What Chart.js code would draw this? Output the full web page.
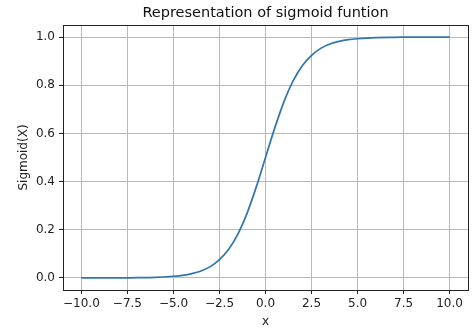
<!DOCTYPE html>
<html>
<head>
<meta charset="utf-8">
<script src="https://cdn.jsdelivr.net/npm/chart.js@4/dist/chart.umd.min.js"></script>
<style>
html,body{margin:0;padding:0;background:#fff;}
#wrap{width:474px;height:336px;}
</style>
</head>
<body>
<div id="wrap"><canvas id="c" width="474" height="336"></canvas></div>
<script>
const xValues = [-10,-9,-8,-7,-6,-5,-4.5,-4,-3.5,-3,-2.5,-2,-1.5,-1,-0.5,0,0.5,1,1.5,2,2.5,3,3.5,4,4.5,5,6,7,8,9,10];
const yValues = [0.000,0.000,0.000,0.001,0.002,0.007,0.011,0.018,0.029,0.047,0.076,0.119,0.182,0.269,0.378,0.500,0.622,0.731,0.818,0.881,0.924,0.953,0.971,0.982,0.989,0.993,0.998,0.999,1.000,1.000,1.000];
const xTicks = [-10,-7.5,-5,-2.5,0,2.5,5,7.5,10];
const yTicks = [0,0.2,0.4,0.6,0.8,1.0];
const titleText = 'Representation of sigmoid funtion';
const xLabel = 'x';
const yLabel = 'Sigmoid(X)';

const fmt = v => v.toFixed(1).replace('-', '\u2212');
const FONT = 'DejaVu Sans';

const framePlugin = {
  id: 'frame',
  beforeDraw(chart) {
    const ctx = chart.ctx;
    ctx.save();
    ctx.fillStyle = '#fff';
    ctx.fillRect(0, 0, chart.width, chart.height);
    ctx.restore();
  },
  afterDraw(chart) {
    const a = chart.chartArea;
    const ctx = chart.ctx;
    ctx.save();
    ctx.strokeStyle = '#222';
    ctx.lineWidth = 1;
    ctx.strokeRect(Math.round(a.left) + 0.5, Math.round(a.top) + 0.5, Math.round(a.right - a.left), Math.round(a.bottom - a.top));
    ctx.restore();
  }
};

new Chart(document.getElementById('c'), {
  type: 'scatter',
  data: {
    datasets: [{
      data: xValues.map((x, i) => ({x: x, y: yValues[i]})),
      showLine: true,
      borderColor: '#2f76aa',
      borderWidth: 1.7,
      pointRadius: 0,
      cubicInterpolationMode: 'monotone',
      fill: false
    }]
  },
  options: {
    responsive: false,
    animation: false,
    devicePixelRatio: 1,
    layout: { padding: { left: 0, right: 6, top: 0, bottom: 0 } },
    plugins: {
      legend: { display: false },
      tooltip: { enabled: false },
      title: {
        display: true,
        text: titleText,
        fullSize: false,
        color: '#111',
        font: { family: FONT, size: 14.5, weight: 'normal' },
        padding: { top: 4.2, bottom: 3.4 }
      }
    },
    scales: {
      x: {
        type: 'linear',
        min: -11,
        max: 11,
        afterBuildTicks: s => { s.ticks = xTicks.map(v => ({value: v})); },
        afterFit: s => { s.height = 46; },
        grid: { color: '#b8b8b8', lineWidth: 1, tickColor: '#222', tickLength: 4, drawTicks: true },
        border: { display: false },
        ticks: { color: '#222', font: { family: FONT, size: 12 }, padding: 3, maxRotation: 0, callback: v => fmt(v) },
        title: { display: true, text: xLabel, color: '#222', font: { family: FONT, size: 12 }, padding: { top: 2, bottom: 6.8 } }
      },
      y: {
        type: 'linear',
        min: -0.05,
        max: 1.05,
        afterBuildTicks: s => { s.ticks = yTicks.map(v => ({value: v})); },
        afterFit: s => { s.width = 63; },
        grid: { color: '#b8b8b8', lineWidth: 1, tickColor: '#222', tickLength: 4, drawTicks: true },
        border: { display: false },
        ticks: { color: '#222', font: { family: FONT, size: 12 }, padding: 4, callback: v => fmt(v) },
        title: { display: true, text: yLabel, color: '#222', font: { family: FONT, size: 12 }, padding: { top: 16.5, bottom: 2 } }
      }
    }
  },
  plugins: [framePlugin]
});
</script>
</body>
</html>
